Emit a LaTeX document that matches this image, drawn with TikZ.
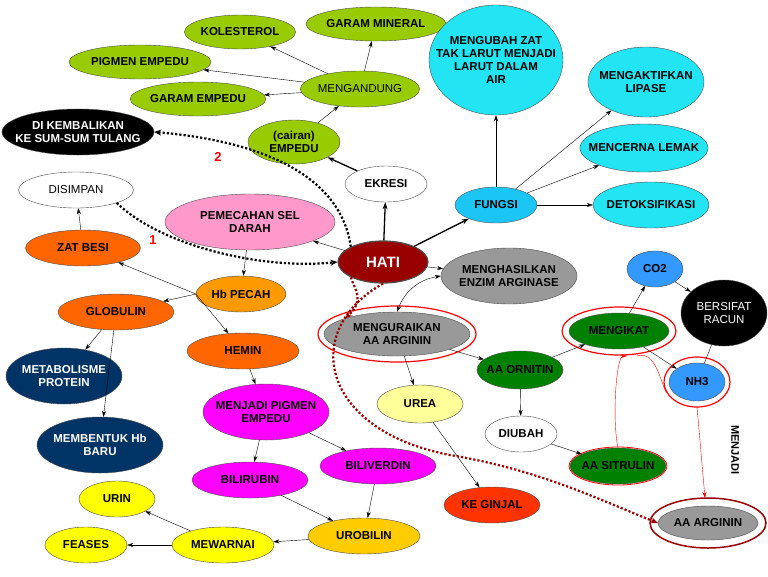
\documentclass[tikz,border=0pt]{standalone}
\usepackage{fontspec}
\setmainfont{Liberation Sans}
\usetikzlibrary{shapes.geometric,arrows.meta}
\definecolor{yg}{HTML}{99CC00}
\definecolor{cy}{HTML}{22E4F2}
\definecolor{cyb}{HTML}{1CC6F4}
\definecolor{og}{HTML}{FF6600}
\definecolor{oy}{HTML}{FF9900}
\definecolor{gr}{HTML}{999999}
\definecolor{dg}{HTML}{008000}
\definecolor{bl}{HTML}{3399FF}
\definecolor{nv}{HTML}{003366}
\definecolor{mg}{HTML}{FF00FF}
\definecolor{pk}{HTML}{FF99CC}
\definecolor{dr}{HTML}{990000}
\definecolor{ly}{HTML}{FFFF99}
\definecolor{yl}{HTML}{FFFF00}
\definecolor{gd}{HTML}{FFCC00}
\definecolor{rg}{HTML}{FF3300}
\tikzset{
 e/.style={ellipse,draw=black!70,inner sep=0pt,align=center,font=\fontsize{11.5}{13}\selectfont\bfseries},
 ar/.style={-{Stealth[length=6pt,width=4pt]},black,thin},
 tar/.style={-{Stealth[length=7pt,width=5pt]},black,line width=1.3pt},
 dots/.style={dotted,line width=2.2pt},
 ring/.style={red,line width=1.2pt}
}
\begin{document}
\begin{tikzpicture}[x=1pt,y=1pt]
\useasboundingbox (0,0) rectangle (768,-576);
% nodes
\node[e,fill=yg,minimum width=95,minimum height=34] (kol) at (240,-32) {KOLESTEROL};
\node[e,fill=yg,minimum width=114,minimum height=34] (gm) at (376,-24) {GARAM MINERAL};
\node[e,fill=yg,minimum width=142,minimum height=34] (pe) at (140,-62) {PIGMEN EMPEDU};
\node[e,fill=yg,minimum width=110,minimum height=36,font=\fontsize{11.5}{13}\selectfont] (mgd) at (360,-89) {MENGANDUNG};
\node[e,fill=yg,minimum width=118,minimum height=34] (ge) at (198,-99) {GARAM EMPEDU};
\node[e,fill=yg,minimum width=92,minimum height=44,inner xsep=-6pt] (emp) at (294,-142) {(cairan)\\EMPEDU};
\node[e,fill=black,text=white,minimum width=152,minimum height=46,inner xsep=-10pt] (dk) at (78,-132) {DI KEMBALIKAN\\KE SUM-SUM TULANG};
\node[e,fill=white,minimum width=82,minimum height=36] (ek) at (386,-184) {EKRESI};
\node[e,fill=white,minimum width=115,minimum height=36,font=\fontsize{11.5}{13}\selectfont] (ds) at (76,-190) {DISIMPAN};
\node[e,fill=pk,minimum width=170,minimum height=56,inner xsep=-8pt] (ps) at (250,-222) {PEMECAHAN SEL\\DARAH};
\node[e,fill=og,minimum width=115,minimum height=36] (zb) at (83,-248) {ZAT BESI};
\node[e,fill=dr,draw=black!70,line width=1.2pt,text=white,minimum width=90,minimum height=42,font=\fontsize{15}{17}\selectfont\bfseries] (hati) at (383,-262) {HATI};
\node[e,fill=cyb,minimum width=82,minimum height=36] (fu) at (496,-205) {FUNGSI};
\node[e,fill=cy,minimum width=134,minimum height=110,inner xsep=-16pt,inner ysep=-4pt] (mz) at (496,-60) {MENGUBAH ZAT\\TAK LARUT MENJADI\\LARUT DALAM\\AIR};
\node[e,fill=cy,minimum width=116,minimum height=70,inner xsep=-8pt] (ml) at (646,-82) {MENGAKTIFKAN\\LIPASE};
\node[e,fill=cy,minimum width=116,minimum height=48,inner xsep=-10pt] (mc) at (644,-148) {MENCERNA LEMAK};
\node[e,fill=cy,minimum width=116,minimum height=46,inner xsep=-6pt] (dt) at (651,-205) {DETOKSIFIKASI};
\node[e,fill=gr,minimum width=136,minimum height=56,inner xsep=-8pt] (mh) at (509,-276) {MENGHASILKAN\\ENZIM ARGINASE};
\node[e,fill=oy,minimum width=90,minimum height=36] (hb) at (241,-294) {Hb PECAH};
\node[e,fill=og,minimum width=116,minimum height=36] (gl) at (116,-312) {GLOBULIN};
\node[e,fill=gr,minimum width=146,minimum height=44,inner xsep=-8pt] (mu) at (397,-334) {MENGURAIKAN\\AA ARGININ};
\node[e,fill=og,minimum width=112,minimum height=36] (he) at (243,-351) {HEMIN};
\node[e,fill=nv,text=white,minimum width=116,minimum height=56,inner xsep=-8pt] (mp) at (64,-376) {METABOLISME\\PROTEIN};
\node[e,fill=dg,minimum width=86,minimum height=38,inner xsep=-4pt] (or) at (520,-370) {AA ORNITIN};
\node[e,fill=dg,minimum width=100,minimum height=36] (mi) at (619,-331) {MENGIKAT};
\node[e,fill=bl,minimum width=56,minimum height=36] (co) at (655,-269) {CO2};
\node[e,fill=black,text=white,minimum width=86,minimum height=66,font=\fontsize{11.5}{13}\selectfont,inner xsep=-4pt] (br) at (724,-313) {BERSIFAT\\RACUN};
\node[e,fill=bl,minimum width=56,minimum height=38] (nh) at (697,-382) {NH3};
\node[e,fill=ly,minimum width=86,minimum height=38] (ur) at (420,-404) {UREA};
\node[e,fill=mg,minimum width=126,minimum height=56,inner xsep=-10pt] (mj) at (266,-412) {MENJADI PIGMEN\\EMPEDU};
\node[e,fill=nv,text=white,minimum width=126,minimum height=56,inner xsep=-8pt] (mb) at (100,-445) {MEMBENTUK Hb\\BARU};
\node[e,fill=white,minimum width=72,minimum height=36] (du) at (521,-434) {DIUBAH};
\node[e,fill=dg,minimum width=96,minimum height=36,inner xsep=-4pt] (si) at (618,-466) {AA SITRULIN};
\node[e,fill=mg,minimum width=116,minimum height=36] (bi) at (250,-480) {BILIRUBIN};
\node[e,fill=mg,minimum width=116,minimum height=36] (bv) at (378,-466) {BILIVERDIN};
\node[e,fill=rg,minimum width=96,minimum height=36] (kg) at (492,-505) {KE GINJAL};
\node[e,fill=yl,minimum width=76,minimum height=36] (uri) at (117,-499) {URIN};
\node[e,fill=yl,minimum width=82,minimum height=36] (fe) at (86,-545) {FEASES};
\node[e,fill=yl,minimum width=102,minimum height=36] (mw) at (223,-545) {MEWARNAI};
\node[e,fill=gd,minimum width=112,minimum height=36] (uo) at (364,-536) {UROBILIN};
\node[e,fill=gr,minimum width=100,minimum height=34,inner xsep=-4pt] (aa) at (708,-523) {AA ARGININ};
\node[rotate=-90,font=\fontsize{11}{12}\selectfont\bfseries] (mjt) at (735,-450) {MENJADI};
% rings
\draw[ring] (mu.center) ellipse (79 and 28);
\draw[ring] (mi.center) ellipse (57 and 24);
\draw[ring] (nh.center) ellipse (33 and 25);
\draw[ring,line width=0.8pt] (si.center) ellipse (49 and 19);
\draw[dr,line width=1.5pt] (aa.center) ellipse (58 and 25);
% arrows
\draw[ar] (mgd) -- (kol);
\draw[ar] (mgd) -- (gm);
\draw[ar] (mgd) -- (pe);
\draw[ar] (mgd) -- (ge);
\draw[ar] (emp) -- (mgd);
\draw[tar] (ek) -- (emp);
\draw[tar] (hati) -- (ek);
\draw[tar] (hati) -- (fu);
\draw[ar] (fu) -- (mz);
\draw[ar] (fu) -- (ml);
\draw[ar] (fu) -- (mc);
\draw[ar] (fu) -- (dt);
\draw[ar] (hati) -- (ps);
\draw[ar] (hati) -- (mh);
\draw[ar] (ps) -- (hb);
\draw[ar] (hb.west) -- (zb);
\draw[ar] (hb.west) -- (gl);
\draw[ar] (hb.west) -- (he);
\draw[ar] (zb) -- (ds);
\draw[ar] (gl) -- (mp);
\draw[ar] (gl) -- (mb);
\draw[ar] (he) -- (mj);
\draw[ar] (mj) -- (bi);
\draw[ar] (mj) -- (bv);
\draw[ar] (bi) -- (uo);
\draw[ar] (bv) -- (uo);
\draw[ar] (uo) -- (mw);
\draw[ar] (mw) -- (uri);
\draw[ar] (mw) -- (fe);
\draw[{Stealth[length=6pt,width=4pt]}-{Stealth[length=6pt,width=4pt]}] (mh.west) to[bend right=30] (mu.north);
\draw[ar] (mu) -- (ur);
\draw[ar] (mu) -- (or);
\draw[ar] (ur) -- (kg);
\draw[ar] (or) -- (mi);
\draw[ar] (or) -- (du);
\draw[ar] (du) -- (si);
\draw[ar] (mi) -- (co);
\draw[ar] (mi) -- (nh);
\draw[ar] (co) -- (br);
\draw (br) -- (nh);
% red
\coordinate (rk) at (627,-356);
\draw[red,thin,-{Stealth[length=6pt,width=4pt]}] (si.north) .. controls (612,-420) and (616,-356) .. (rk);
\draw[red,thin] (637,-356) .. controls (655,-350) and (660,-380) .. (666,-392);
\coordinate (nb) at (697,-407);
\draw[red,thin,-{Stealth[length=6pt,width=4pt]}] (nb) -- (705,-498);
% dotted
\draw[dots,-{Stealth[length=7pt,width=6pt]}] (ds.south east) .. controls (160,-245) and (260,-270) .. (hati.west);
\node[red,font=\fontsize{13}{14}\selectfont\bfseries] (n1) at (153,-240) {1};
\draw[dots,-{Stealth[length=7pt,width=6pt]}] (hati.north west) .. controls (340,-170) and (250,-140) .. (dk.east);
\node[red,font=\fontsize{13}{14}\selectfont\bfseries] (n2) at (218,-157) {2};
\draw[dots,dr,-{Stealth[length=7pt,width=6pt]}] (hati.south west) .. controls (355,-290) and (365,-300) .. (mu.north west);
\draw[dots,dr,-{Stealth[length=7pt,width=6pt]}] (hati.south) .. controls (300,-330) and (320,-430) .. (450,-455) .. controls (540,-470) and (600,-500) .. (aa.west);
\end{tikzpicture}
\end{document}
